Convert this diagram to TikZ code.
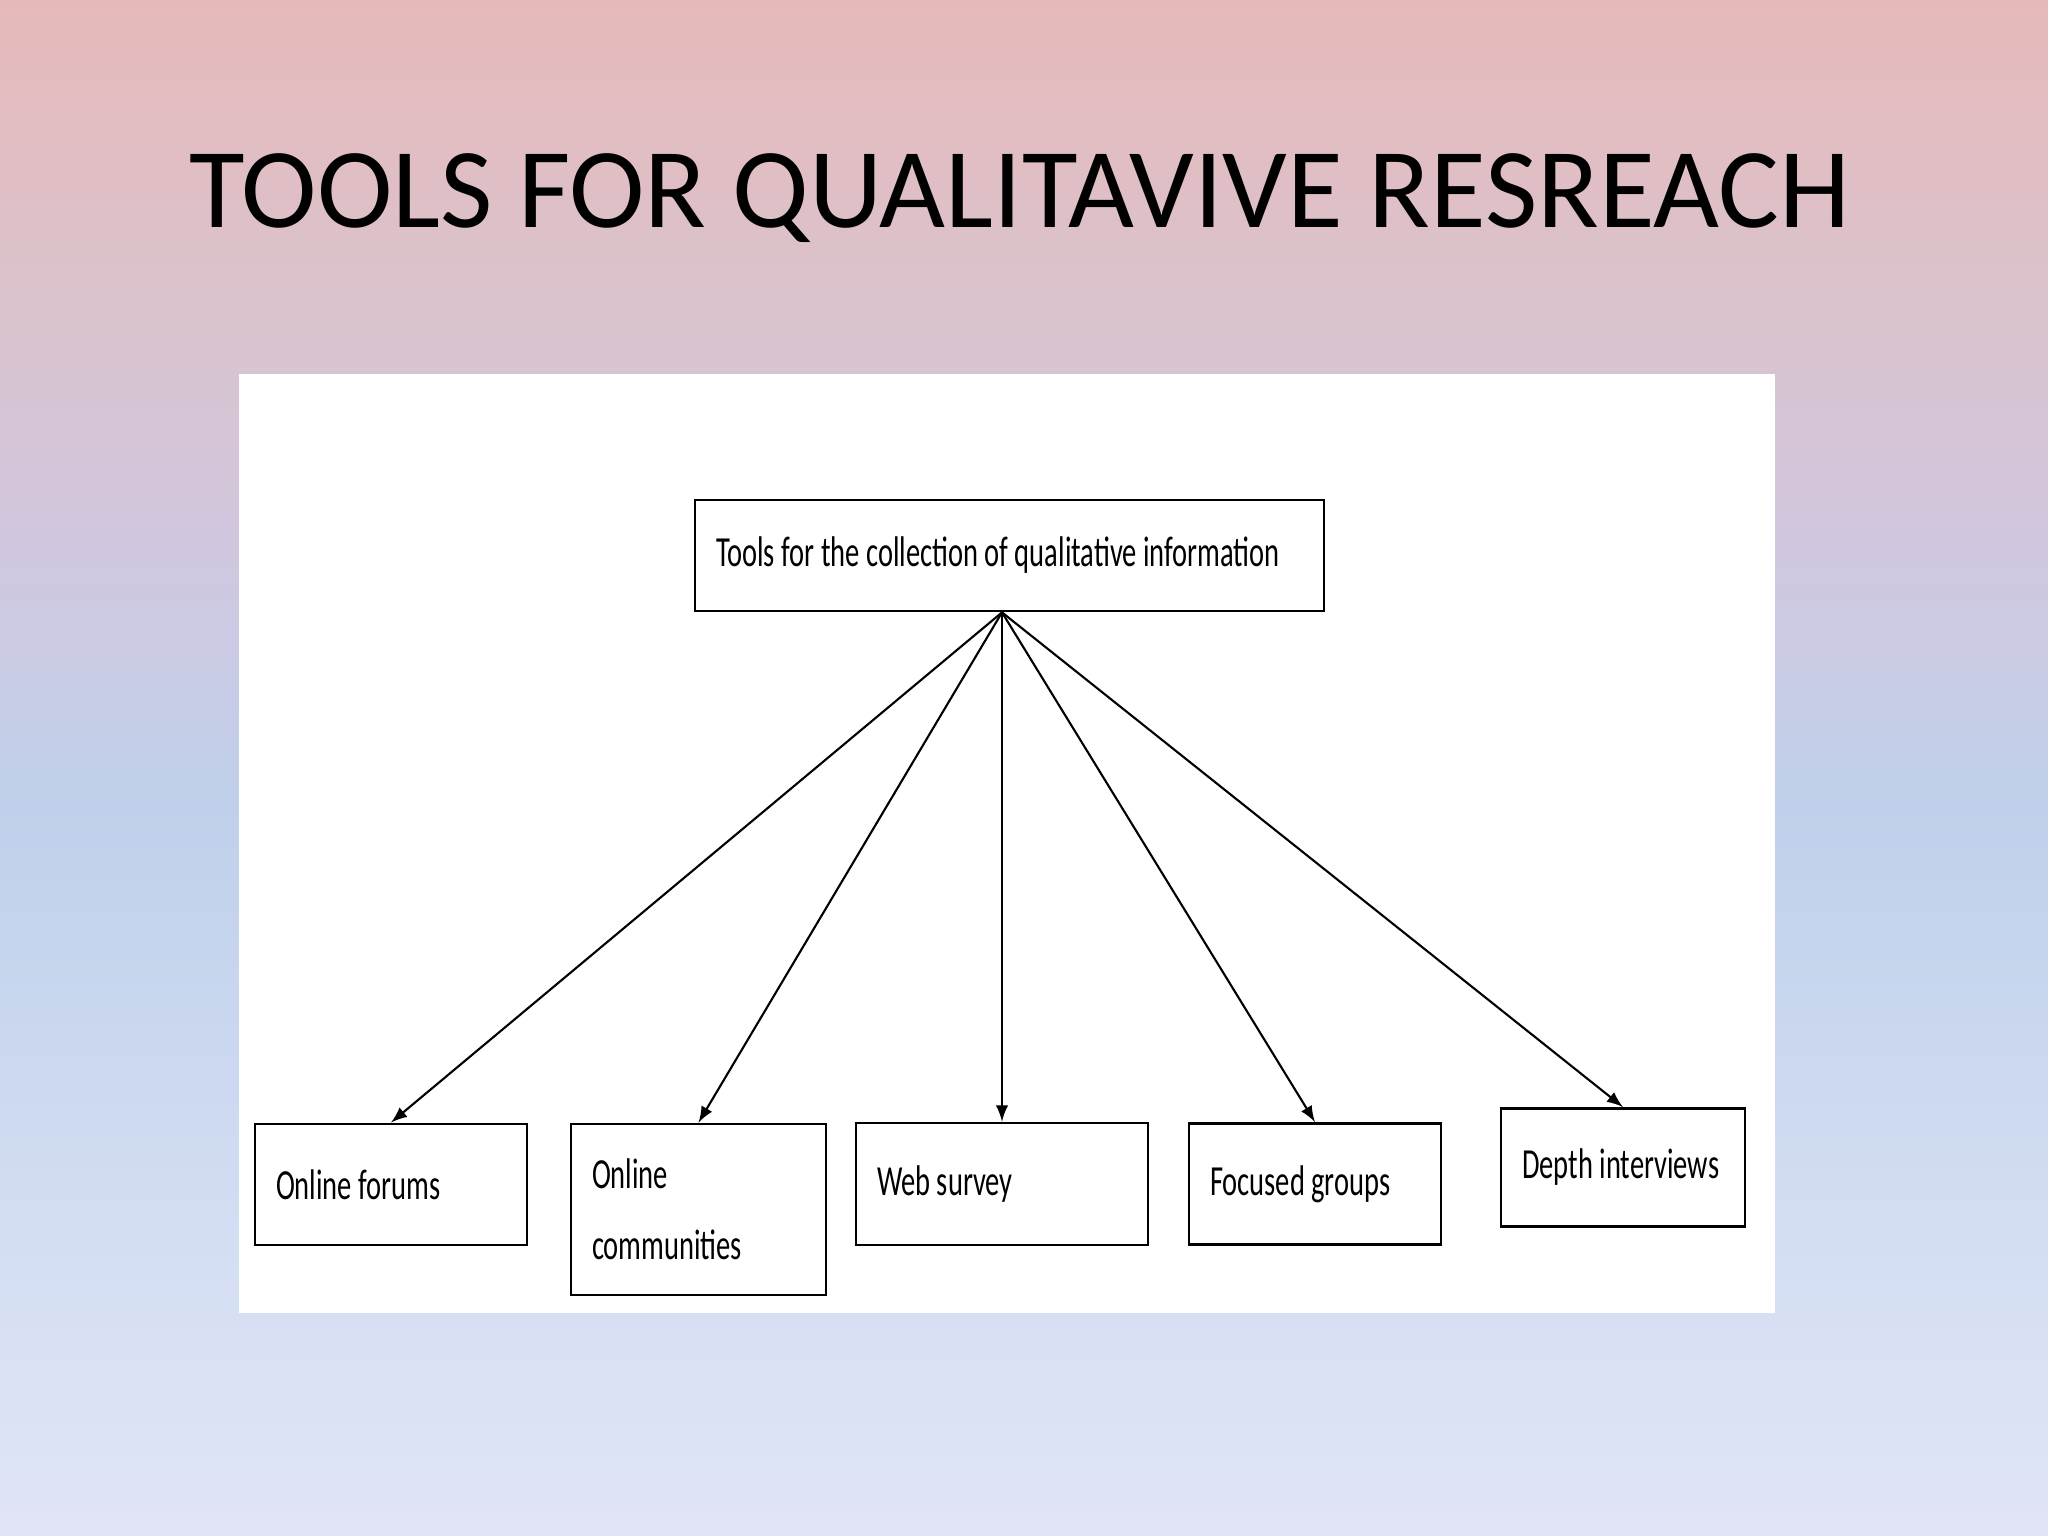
\documentclass[tikz,border=0pt]{standalone}
\usepackage{fontspec}
\setmainfont{Carlito}
\newfontfamily\boxfont[FakeStretch=0.665]{Carlito}
\definecolor{slidea}{RGB}{230,185,185}
\definecolor{slideb}{RGB}{218,195,205}
\definecolor{slidec}{RGB}{210,198,220}
\definecolor{slided}{RGB}{202,202,228}
\definecolor{slidee}{RGB}{192,208,234}
\definecolor{slidef}{RGB}{200,214,238}
\definecolor{slideg}{RGB}{212,222,243}
\definecolor{slideh}{RGB}{220,228,243}
\definecolor{slidei}{RGB}{225,228,245}
\pgfdeclareverticalshading{slide}{100bp}{color(0bp)=(slidei); color(25bp)=(slidei);
  color(28bp)=(slideh); color(34.5bp)=(slideg); color(42.5bp)=(slidef); color(49bp)=(slidee);
  color(53.8bp)=(slided); color(58.5bp)=(slidec); color(65bp)=(slideb); color(75bp)=(slidea);
  color(100bp)=(slidea)}

\begin{document}
\begin{tikzpicture}[
    node distance=3.1cm,
    tool/.style={rectangle, draw, thick, align=flush left, inner xsep=0.21cm, inner ysep=0pt,
                 font=\boxfont\fontsize{12.2}{20.2}\selectfont},
    arrow/.style={-latex, semithick}
]
    % slide background and picture frame
    \shade[shading=slide] (0,0) rectangle (20.48,-15.36);
    \fill[white] (2.39,-3.74) rectangle (17.75,-13.13);

    \node[anchor=base, font=\fontsize{32.4}{38}\selectfont] (title) at (10.2,-2.28) {TOOLS FOR QUALITAVIVE RESREACH};

    \node[tool, minimum width=6.29cm, minimum height=1.11cm, text width=5.87cm] (tools) at (10.095,-5.555) {Tools for the collection of qualitative information};
    \coordinate[xshift=-0.075cm] (hub) at (tools.south);
    \node[tool, below of=tools, xshift=-0.075cm, yshift=-3.185cm, minimum width=2.92cm, minimum height=1.22cm, text width=2.5cm] (survey) {Web survey};
    \node[tool, left of=survey, xshift=0.065cm, yshift=-0.255cm, minimum width=2.55cm, minimum height=1.71cm, text width=2.13cm] (communities) {Online\\communities};
    \node[tool, left of=communities, xshift=0.025cm, yshift=0.25cm, minimum width=2.72cm, minimum height=1.21cm, text width=2.3cm] (forums) {Online forums};
    \node[tool, right of=survey, xshift=0.03cm, minimum width=2.52cm, minimum height=1.21cm, text width=2.1cm] (groups) {Focused groups};
    \node[tool, right of=groups, xshift=-0.02cm, yshift=0.165cm, minimum width=2.44cm, minimum height=1.18cm, text width=2.02cm] (interviews) {Depth interviews};

    \draw[arrow] (hub) -- (forums.north);
    \draw[arrow] (hub) -- (communities.north);
    \draw[arrow] (hub) -- (survey.north);
    \draw[arrow] (hub) -- (groups.north);
    \draw[arrow] (hub) -- (interviews.north);
\end{tikzpicture}
\end{document}
